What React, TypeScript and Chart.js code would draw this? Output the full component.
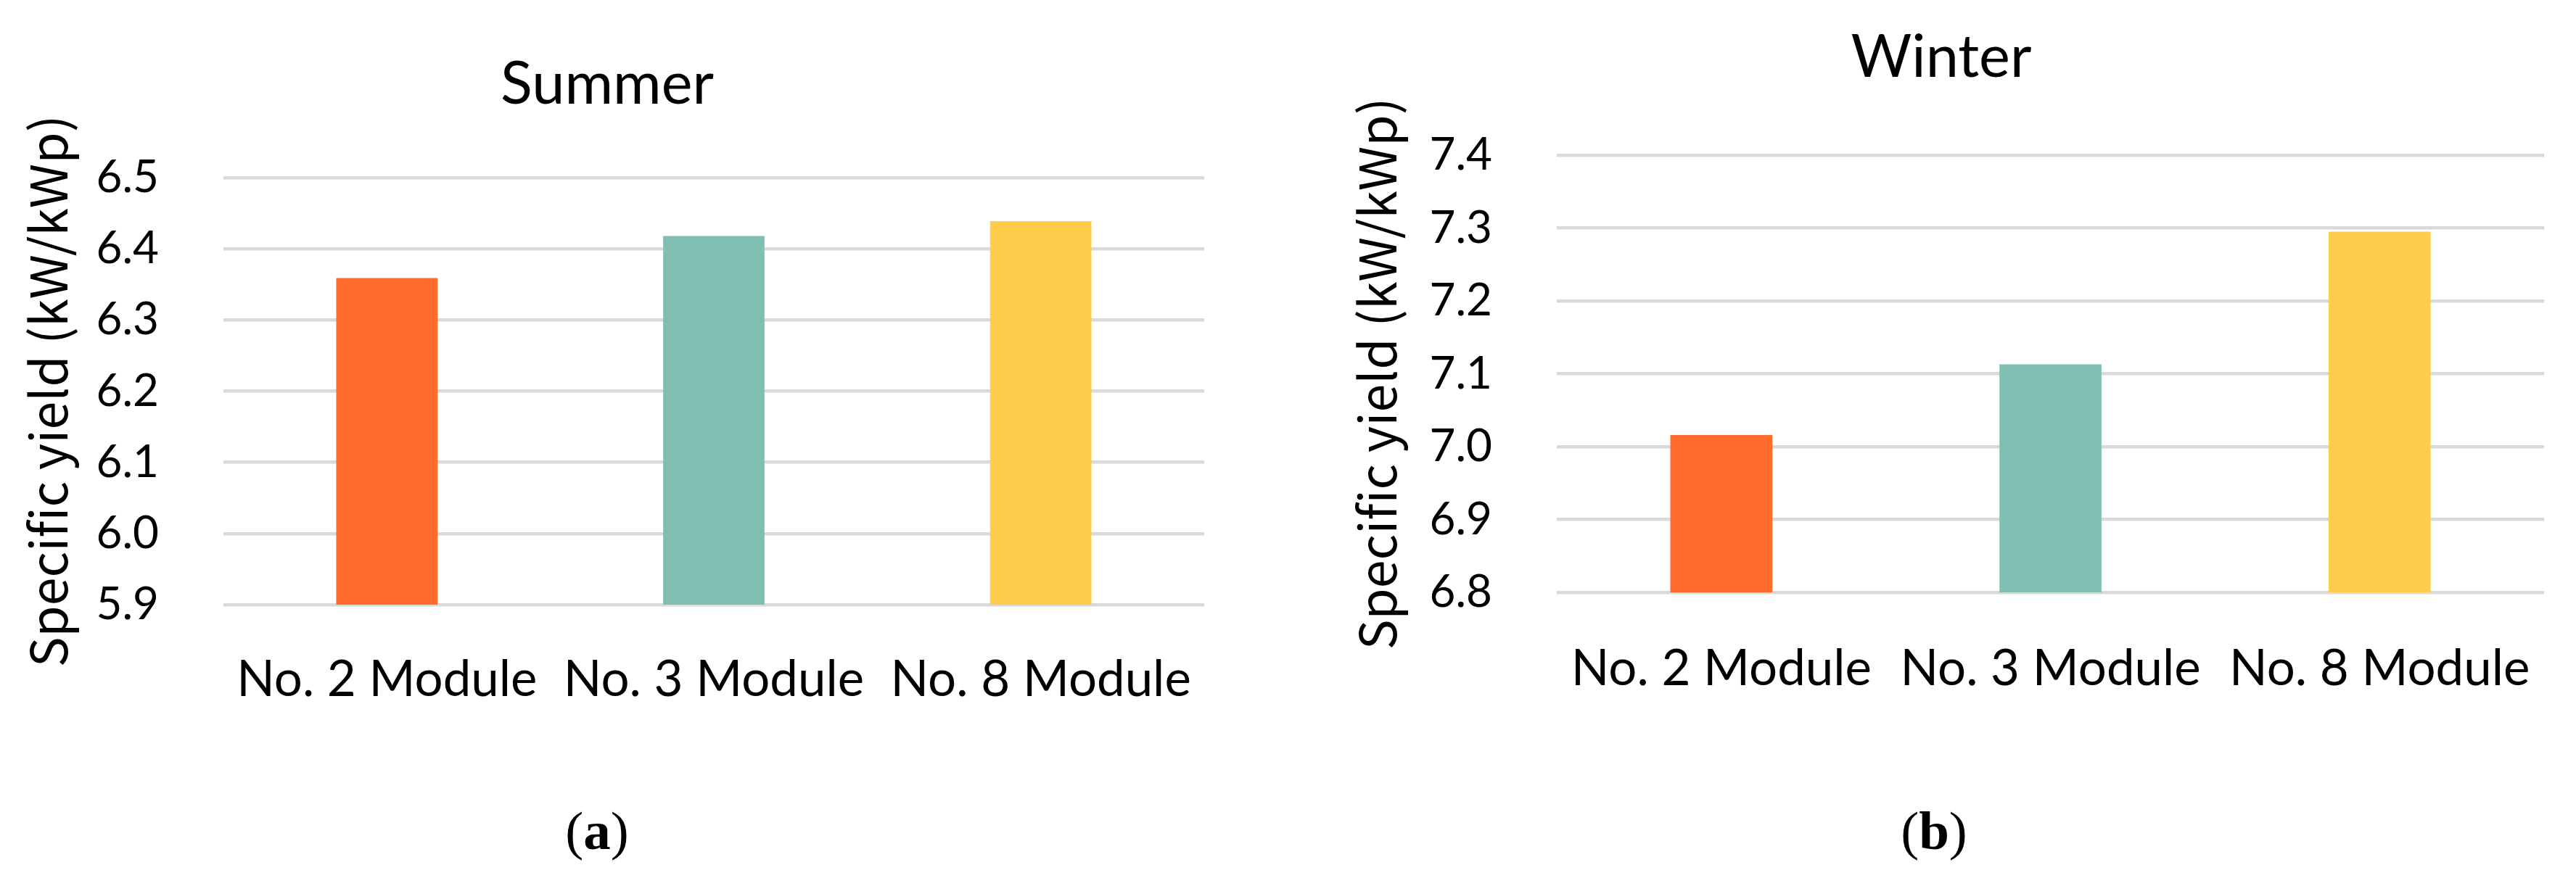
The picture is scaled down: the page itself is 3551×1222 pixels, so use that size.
import React, { useEffect, useRef } from 'react';
import { Chart, registerables } from 'chart.js';

Chart.register(...registerables);

const categories = ['No. 2 Module', 'No. 3 Module', 'No. 8 Module'];
const summerValues = [6.359, 6.418, 6.439];
const winterValues = [7.016, 7.113, 7.295];
const summerTicks = [5.9, 6.0, 6.1, 6.2, 6.3, 6.4, 6.5];
const winterTicks = [6.8, 6.9, 7.0, 7.1, 7.2, 7.3, 7.4];
const barColors = ['#FF6B2B', '#7FBEB1', '#FFCD4B'];
const yAxisTitle = 'Specific yield (kW/kWp)';
const panelTitles = ['Summer', 'Winter'];
const captionLetters = ['a', 'b'];

type PanelOpts = {
  title: string;
  values: number[];
  ticks: number[];
  padLeft: number;
  padRight: number;
  titleTop: number;
  titleBottom: number;
  xHeight: number;
  xPad: number;
  yWidth: number;
  yTitlePad: number;
};

function makeConfig(o: PanelOpts): any {
  return {
    type: 'bar',
    data: {
      labels: categories,
      datasets: [
        {
          data: o.values,
          backgroundColor: barColors,
          borderWidth: 0,
          categoryPercentage: 1,
          barPercentage: 0.31,
        },
      ],
    },
    options: {
      responsive: false,
      animation: false,
      devicePixelRatio: 1,
      layout: { padding: { left: o.padLeft, right: o.padRight, top: 0, bottom: 0 } },
      plugins: {
        legend: { display: false },
        tooltip: { enabled: false },
        title: {
          display: true,
          text: o.title,
          color: '#000',
          font: { family: 'Lato', size: 81, weight: 'normal', lineHeight: 1.2 },
          padding: { top: o.titleTop, bottom: o.titleBottom },
        },
      },
      scales: {
        x: {
          grid: { display: false },
          border: { display: false },
          ticks: {
            color: '#000',
            padding: o.xPad,
            font: { family: 'Lato', size: 69, lineHeight: 1.2 },
            maxRotation: 0,
            autoSkip: false,
          },
          afterFit: (s: any) => {
            s.height = o.xHeight;
          },
        },
        y: {
          min: o.ticks[0],
          max: o.ticks[o.ticks.length - 1],
          afterBuildTicks: (s: any) => {
            s.ticks = o.ticks.map((v) => ({ value: v }));
          },
          ticks: {
            callback: (v: any) => Number(v).toFixed(1),
            padding: 89,
            color: '#000',
            font: { family: 'Lato', size: 62 },
          },
          grid: { color: '#D9D9D9', lineWidth: 4.5, drawTicks: false },
          border: { display: false },
          title: {
            display: true,
            text: yAxisTitle,
            color: '#000',
            font: { family: '"Noto Sans CJK SC"', size: 70, lineHeight: 1.2 },
            padding: { top: o.yTitlePad, bottom: 0 },
          },
          afterFit: (s: any) => {
            s.width = o.yWidth;
          },
        },
      },
    },
  };
}

function Panel({ left, width, opts }: { left: number; width: number; opts: PanelOpts }) {
  const ref = useRef<HTMLCanvasElement | null>(null);
  useEffect(() => {
    if (!ref.current) return;
    const chart = new Chart(ref.current, makeConfig(opts));
    return () => chart.destroy();
  }, []);
  return (
    <canvas
      ref={ref}
      width={width}
      height={1222}
      style={{ position: 'absolute', left, top: 0, width, height: 1222 }}
    />
  );
}

function Caption({ cx, letter }: { cx: number; letter: string }) {
  return (
    <div
      style={{
        position: 'absolute',
        left: cx - 100,
        top: 1108,
        width: 200,
        textAlign: 'center',
        fontFamily: '"Liberation Serif", "Times New Roman", serif',
        fontSize: 75,
        lineHeight: '75px',
        color: '#000',
      }}
    >
      (<b>{letter}</b>)
    </div>
  );
}

export default function App() {
  const summer: PanelOpts = {
    title: panelTitles[0],
    values: summerValues,
    ticks: summerTicks,
    padLeft: 14,
    padRight: 115,
    titleTop: 68.4,
    titleBottom: 79.4,
    xHeight: 388,
    xPad: 54.6,
    yWidth: 294,
    yTitlePad: 10,
  };
  const winter: PanelOpts = {
    title: panelTitles[1],
    values: winterValues,
    ticks: winterTicks,
    padLeft: 68,
    padRight: 42,
    titleTop: 31.4,
    titleBottom: 85.4,
    xHeight: 405,
    xPad: 56.6,
    yWidth: 303,
    yTitlePad: 13,
  };
  return (
    <div
      style={{
        position: 'absolute',
        left: 0,
        top: 0,
        width: 3551,
        height: 1222,
        background: '#fff',
        overflow: 'hidden',
      }}
    >
      <Panel left={0} width={1775} opts={summer} />
      <Panel left={1775} width={1776} opts={winter} />
      <Caption cx={823} letter={captionLetters[0]} />
      <Caption cx={2666} letter={captionLetters[1]} />
    </div>
  );
}
